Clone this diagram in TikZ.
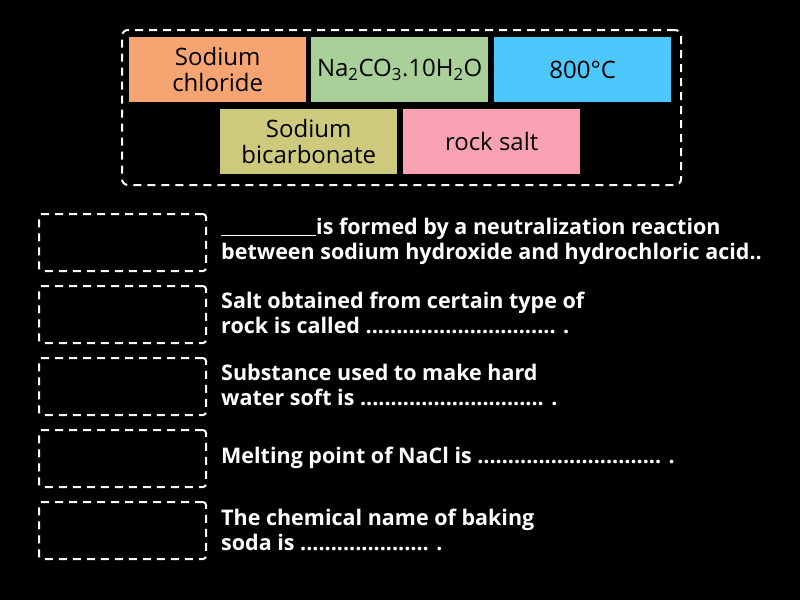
\documentclass[tikz,border=0pt]{standalone}
\usepackage{fontspec}
\setmainfont{Open Sans}
\begin{document}
\begin{tikzpicture}[x=1pt,y=-1pt,
  tile/.style={minimum width=177pt,minimum height=65pt,anchor=north west,inner sep=0pt,align=center,font=\fontsize{24}{26}\selectfont,text=black},
  slot/.style={draw=white,dashed,line width=2pt,dash pattern=on 8pt off 6pt,rounded corners=3pt,minimum width=167pt,minimum height=57pt,anchor=north west,inner sep=0pt},
  q/.style={anchor=west,align=left,text=white,font=\fontsize{21.5}{25}\selectfont\bfseries,inner sep=0pt}]
\fill[black] (0,0) rectangle (800,600);
\node[draw=white,line width=2pt,dash pattern=on 8pt off 6pt,rounded corners=6pt,minimum width=559pt,minimum height=155pt,anchor=north west,inner sep=0pt] (bank) at (121,29) {};
\node[tile,fill={rgb,255:red,246;green,165;blue,114}] (t1) at (129,37) {Sodium\\chloride};
\node[tile,fill={rgb,255:red,168;green,208;blue,152}] (t2) at (311,37) {Na\textsubscript{2}CO\textsubscript{3}.10H\textsubscript{2}O};
\node[tile,fill={rgb,255:red,77;green,200;blue,252}] (t3) at (494,37) {800°C};
\node[tile,fill={rgb,255:red,205;green,202;blue,126}] (t4) at (220,109) {Sodium\\bicarbonate};
\node[tile,fill={rgb,255:red,250;green,162;blue,180}] (t5) at (403,109) {rock salt};
\foreach \y/\n in {213/1,285/2,357/3,429/4,501/5}{
  \node[slot] (s\n) at (38,\y) {};
}
\node[q] (q1) at (221,241) {\underline{\hspace{95pt}}is formed by a neutralization reaction\\between sodium hydroxide and hydrochloric acid..};
\node[q] (q2) at (221,313) {Salt obtained from certain type of\\rock is called ............................... .};
\node[q] (q3) at (221,385) {Substance used to make hard\\ water soft is .............................. .};
\node[q] (q4) at (221,458) {Melting point of NaCl is .............................. .};
\node[q] (q5) at (221,530) {The chemical name of baking\\soda is .................…. .};
\end{tikzpicture}
\end{document}
